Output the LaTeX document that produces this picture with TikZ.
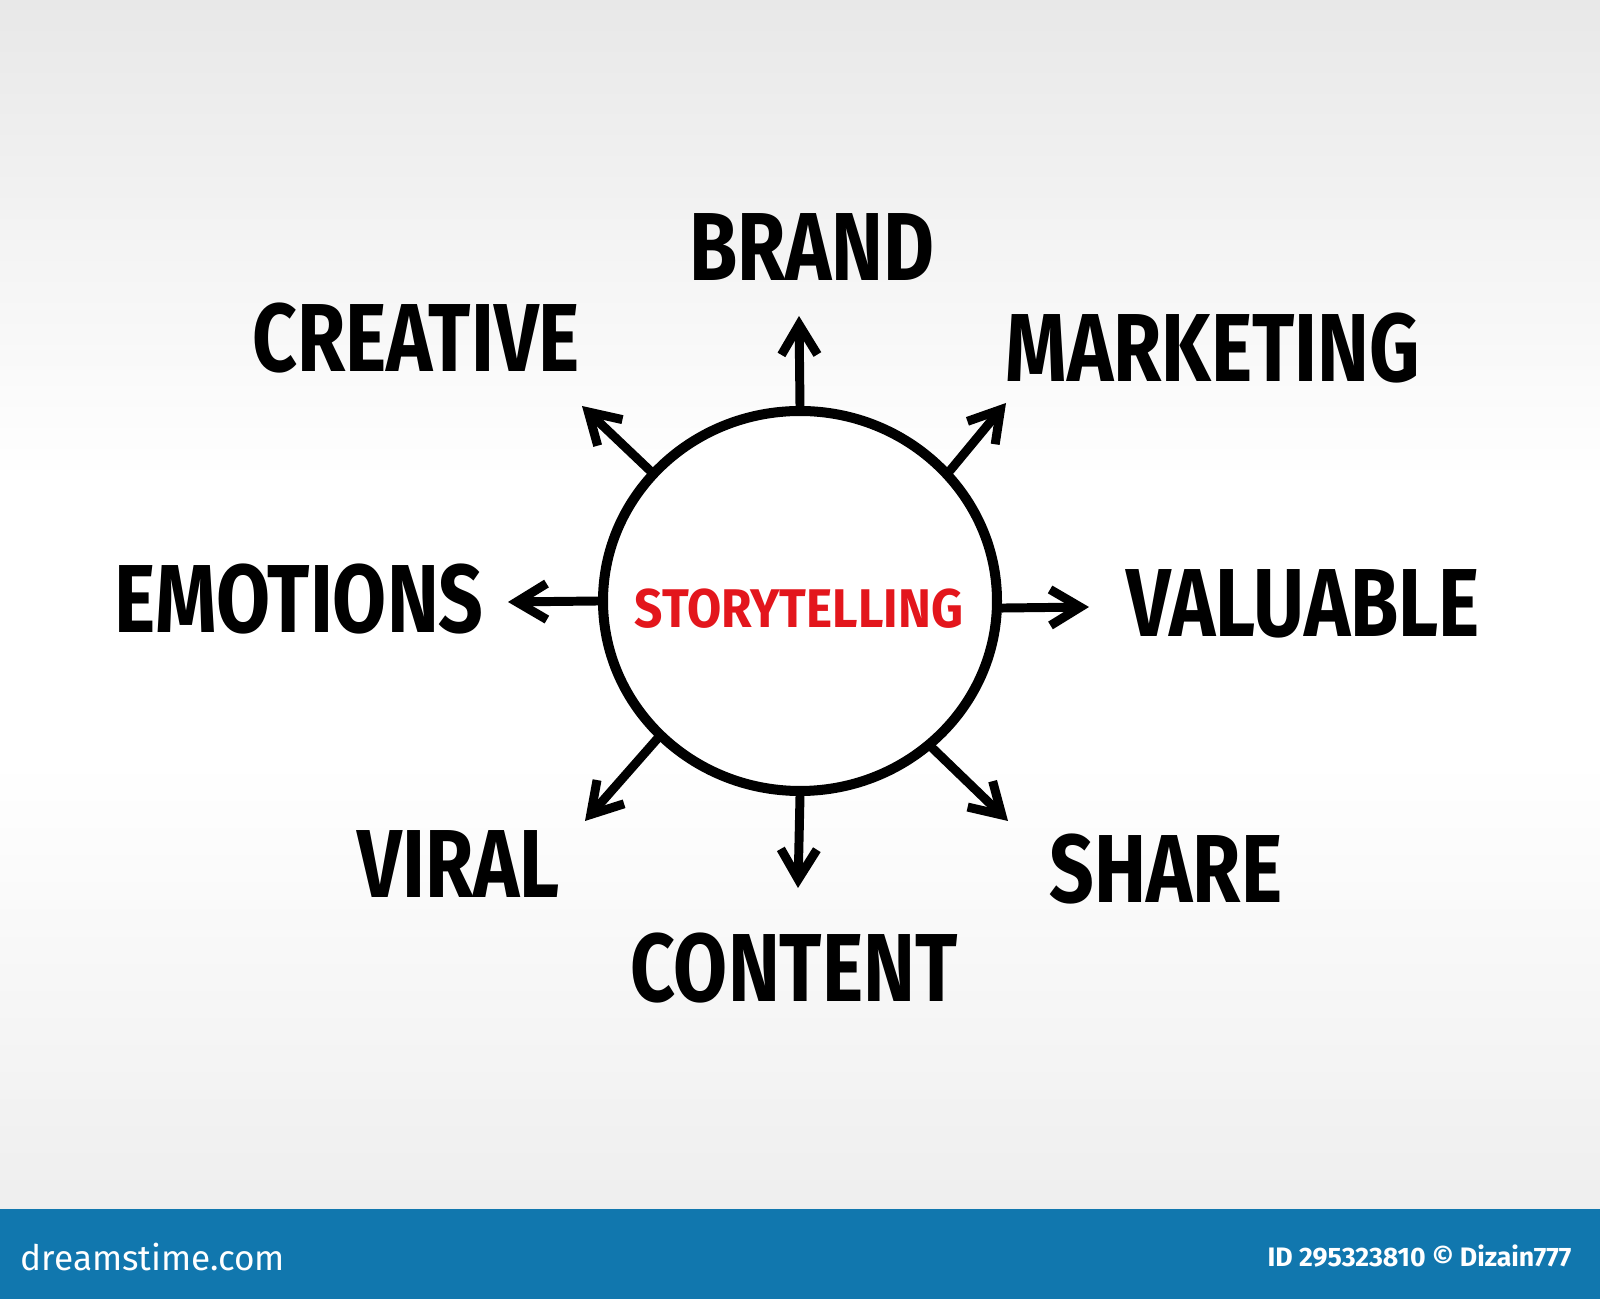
\documentclass[tikz,border=0pt]{standalone}
\usepackage{fontspec}
\newfontfamily\hand[FakeStretch=0.81]{Fira Sans}
\newfontfamily\handr[FakeStretch=0.91]{Fira Sans}
\newfontfamily\barfont{Fira Sans}
\usetikzlibrary{shapes}
\usetikzlibrary{positioning}
\usetikzlibrary{arrows.meta}
\definecolor{inkred}{HTML}{E3161C}
\definecolor{barblue}{HTML}{1177AE}
\tikzset{
    hub/.style = {ellipse, draw=black, line width=2.85pt, fill=white, minimum width=39.4mm, minimum height=38mm},
    word/.style = {inner sep=0pt, font=\hand\bfseries\fontsize{27.5}{32}\selectfont},
    wordr/.style = {inner sep=0pt, text=inkred, font=\handr\bfseries\fontsize{15.5}{18}\selectfont},
    edgen/.style = {-{Straight Barb[length=3mm,width=3.6mm]},line width=2.55pt,line cap=round,line join=round},
    barnode/.style = {inner sep=0pt, text=white}
}
\begin{document}
\begin{tikzpicture}[x=0.1mm,y=-0.1mm]
\useasboundingbox (0,0) rectangle (1600,1299);
%
\fill[white] (0,0) rectangle (1600,1209);
\shade[top color=gray!18, bottom color=white] (0,0) rectangle (1600,480);
\shade[top color=white, bottom color=gray!13] (0,760) rectangle (1600,1209);
\fill[barblue] (0,1209) rectangle (1600,1299);
%
\node[hub] at (800, 601) (s) {};
\node[wordr] at (799, 609) (story) {STORYTELLING};
%
\node[word] at (812, 247) (brand) {BRAND};
\node[word] at (416, 338) (creative) {CREATIVE};
\node[word] at (1213, 348) (marketing) {MARKETING};
\node[word] at (299, 599) (emotions) {EMOTIONS};
\node[word] at (1303, 604) (valuable) {VALUABLE};
\node[word] at (459, 864) (viral) {VIRAL};
\node[word] at (794, 968) (content) {CONTENT};
\node[word] at (1166, 869) (share) {SHARE};
%
\coordinate (tbrand) at (799, 316);
\coordinate (tcreative) at (582, 406);
\coordinate (tmarketing) at (1006, 403);
\coordinate (temotions) at (508, 602);
\coordinate (tvaluable) at (1089, 607);
\coordinate (tviral) at (585, 821);
\coordinate (tcontent) at (798, 888);
\coordinate (tshare) at (1008, 821);
%
\draw[edgen] (s.90) -- (tbrand);
\draw[edgen] (s.139) -- (tcreative);
\draw[edgen] (s.41) -- (tmarketing);
\draw[edgen] (s.180) -- (temotions);
\draw[edgen] (s.-2) -- (tvaluable);
\draw[edgen] (s.224) -- (tviral);
\draw[edgen] (s.270) -- (tcontent);
\draw[edgen] (s.312) -- (tshare);
%
\node[barnode, anchor=west, font=\barfont\fontsize{10}{12}\selectfont] at (20, 1257) (site) {dreamstime.com};
\node[barnode, anchor=east, font=\barfont\bfseries\fontsize{7.6}{9}\selectfont] at (1572, 1256) (imgid) {ID 295323810 © Dizain777};

\end{tikzpicture}
\end{document}
